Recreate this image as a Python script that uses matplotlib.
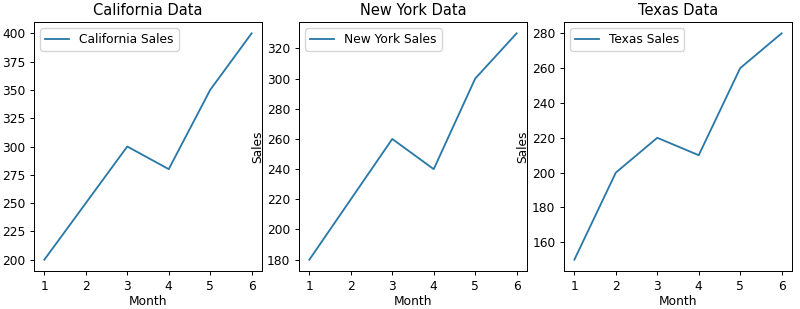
import matplotlib.pyplot as plt

months = [1, 2, 3, 4, 5, 6]
california_sales = [200, 250, 300, 280, 350, 400]
new_york_sales = [180, 220, 260, 240, 300, 330]
texas_sales = [150, 200, 220, 210, 260, 280]

states = ['California', 'New York', 'Texas']
sales = [california_sales, new_york_sales, texas_sales]
line_color = '#2a78a8'

# reference looks like a slightly shrunk default figure, so scale things down
k = 0.88
plt.rcParams.update({
    'font.size': 10 * k,
    'axes.titlesize': 12 * k,
    'lines.linewidth': 1.5 * k,
    'axes.linewidth': 0.8 * k,
    'xtick.major.size': 3.5 * k,
    'ytick.major.size': 3.5 * k,
    'xtick.major.pad': 3.5 * k,
    'ytick.major.pad': 3.5 * k,
    'xtick.major.width': 0.8 * k,
    'ytick.major.width': 0.8 * k,
    'axes.titlepad': 6 * k,
    'axes.labelpad': 2,
})

fig = plt.figure(figsize=(8, 3.09), dpi=100)
lefts = [34, 299, 564]
width = 228
for i, (state, s) in enumerate(zip(states, sales)):
    ax = fig.add_axes([lefts[i] / 800, 38 / 309, width / 800, 249 / 309])
    ax.plot(months, s, color=line_color, label=f'{state} Sales')
    ax.set_title(f'{state} Data')
    ax.set_xlabel('Month')
    if i > 0:
        # first panel's y label falls off the left edge in the reference
        ax.set_ylabel('Sales')
    ax.set_xticks(months)
    ax.legend(loc='upper left')

fig.savefig('out.png', dpi=100)
